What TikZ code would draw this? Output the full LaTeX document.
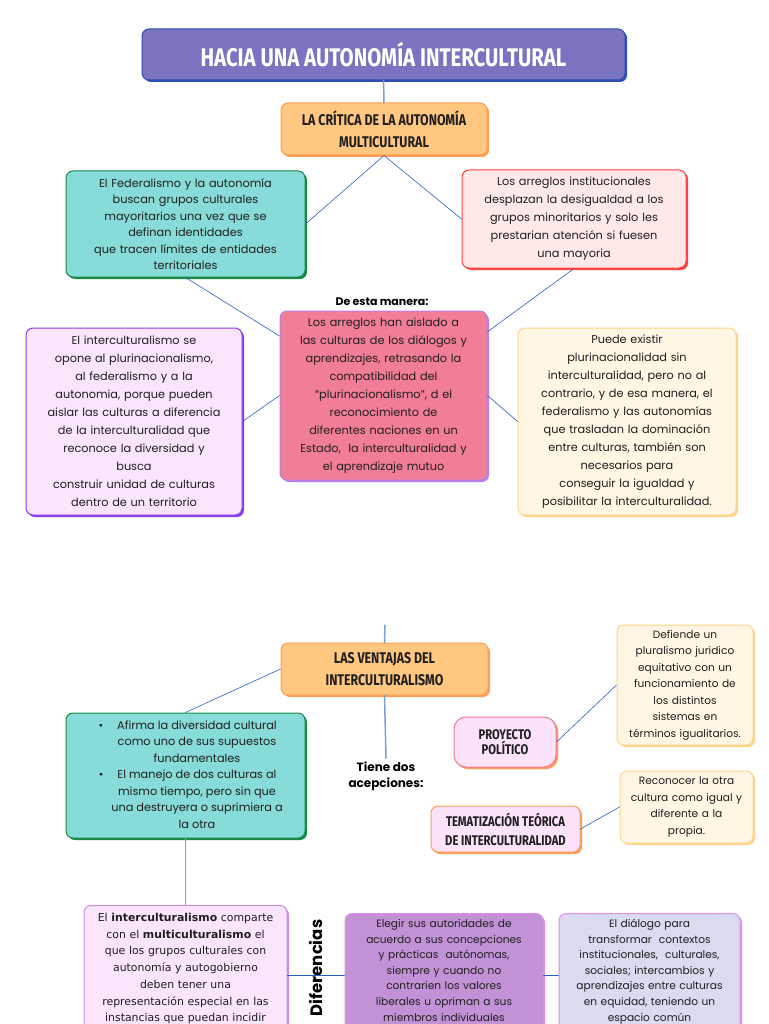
\documentclass[tikz,border=0pt]{standalone}
\usepackage{fontspec}
\setmainfont{Poppins}
\newfontfamily\headfont[FakeStretch=0.8]{Fira Sans}
\newfontfamily\verdfont{DejaVu Sans}
\usetikzlibrary{calc,shadows}
\definecolor{ttwwbb}{rgb}{0.48,0.45,0.75}
\definecolor{zzttcc}{rgb}{0.17,0.31,0.71}
\definecolor{ffwwtt}{rgb}{1.,0.78,0.5}
\definecolor{ffcctt}{rgb}{1.,0.62,0.33}
\definecolor{cceeee}{rgb}{0.53,0.86,0.85}
\definecolor{qqcczz}{rgb}{0.09,0.54,0.27}
\definecolor{ffeeee}{rgb}{1.,0.91,0.91}
\definecolor{ffzzzz}{rgb}{1.,0.25,0.25}
\definecolor{ffeeff}{rgb}{0.98,0.9,0.99}
\definecolor{cczzff}{rgb}{0.55,0.24,0.94}
\definecolor{ffccdd}{rgb}{0.95,0.49,0.59}
\definecolor{ccccff}{rgb}{0.72,0.5,0.9}
\definecolor{fffffe}{rgb}{1.,0.965,0.895}
\definecolor{ffddcc}{rgb}{1.,0.83,0.54}
\definecolor{ffeefe}{rgb}{0.99,0.89,0.98}
\definecolor{ffttcc}{rgb}{0.94,0.46,0.58}
\definecolor{ddccff}{rgb}{0.82,0.55,0.94}
\definecolor{ccccee}{rgb}{0.76,0.57,0.84}
\definecolor{eeccff}{rgb}{0.9,0.55,0.92}
\definecolor{eeeeff}{rgb}{0.85,0.86,0.94}
\definecolor{zzttee}{rgb}{0.16,0.38,0.79}
\definecolor{ccddff}{rgb}{0.47,0.62,0.86}
\begin{document}
\begin{tikzpicture}[line cap=round,line join=round,x=1pt,y=-1pt,
  box/.style 2 args={draw=#2,fill=#1,rounded corners=7pt,line width=1pt,inner sep=0pt,align=center,text=black!88,
    drop shadow={shadow xshift=2pt,shadow yshift=-2pt,fill=#2,opacity=1}},
  head/.style={font=\headfont\bfseries\fontsize{15.5}{22}\selectfont},
  txt/.style={font=\fontsize{11.3}{18}\selectfont},
  txm/.style={font=\fontsize{11.3}{16.5}\selectfont},
  txs/.style={font=\fontsize{10.6}{16.5}\selectfont},
  bold/.style={font=\bfseries\fontsize{#1}{16}\selectfont,align=center},
  link/.style={draw=zzttee,line width=0.6pt},
  stem/.style={draw=ccddff,line width=1.5pt}]
\clip (0,0) rectangle (768,1024);
\useasboundingbox (0,0) rectangle (768,1024);
% parte superior
\node[box={ttwwbb}{zzttcc},minimum width=483pt,minimum height=51pt,text=white,font=\headfont\bfseries\fontsize{25.5}{30}\selectfont] (title) at (383.5,54.5) {HACIA UNA AUTONOMÍA INTERCULTURAL};
\node[box={ffwwtt}{ffcctt},head,minimum width=206pt,minimum height=52pt] (critica) at (384,129) {LA CRÍTICA DE LA AUTONOMÍA\\MULTICULTURAL};
\node[box={cceeee}{qqcczz},txm,text width=235pt,minimum width=239pt,minimum height=106pt] (federal) at (185.5,224) {El Federalismo y la autonomía\\ buscan grupos culturales\\ mayoritarios una vez que se\\ definan identidades\\ que tracen límites de entidades\\ territoriales};
\node[box={ffeeee}{ffzzzz},txt,text width=220pt,minimum width=224pt,minimum height=98pt] (arreglos) at (574,219) {Los arreglos institucionales\\ desplazan la desigualdad a los\\ grupos minoritarios y solo les\\ prestarian atención si fuesen\\ una mayoria};
\node[bold=11] (manera) at (382,302) {De esta manera:};
\node[box={ffccdd}{ccccff},txt,text width=203pt,minimum width=207pt,minimum height=169pt] (aislado) at (383.5,395.5) {Los arreglos han aislado a\\ las culturas de los diálogos y\\ aprendizajes, retrasando la\\ compatibilidad del\\ “plurinacionalismo”, d el\\ reconocimiento de\\ diferentes naciones en un\\ Estado,\ \ la interculturalidad y\\ el aprendizaje mutuo};
\node[box={ffeeff}{cczzff},txt,text width=212pt,minimum width=216pt,minimum height=187pt] (opone) at (134,421.5) {El interculturalismo se\\ opone al plurinacionalismo,\\ al federalismo y a la\\ autonomia, porque pueden\\ aislar las culturas a diferencia\\ de la interculturalidad que\\ reconoce la diversidad y\\ busca\\ construir unidad de culturas\\ dentro de un territorio};
\node[box={fffffe}{ffddcc},txt,text width=214pt,minimum width=218pt,minimum height=187pt] (existir) at (627,421.5) {Puede existir\\ plurinacionalidad sin\\ interculturalidad, pero no al\\ contrario, y de esa manera, el\\ federalismo y las autonomías\\ que trasladan la dominación\\ entre culturas, también son\\ necesarios para\\ conseguir la igualdad y\\ posibilitar la interculturalidad.};
\draw[stem] (title) -- (critica);
\draw[link] (critica.south) -- (federal.east);
\draw[link] (critica.south) -- (arreglos.west);
\draw[link] (federal.south) -- ($(aislado.north west)!0.15!(aislado.south west)$);
\draw[link] (arreglos.south) -- ($(aislado.north east)!0.125!(aislado.south east)$);
\draw[link] (opone.east) -- (aislado.west);
\draw[link] (aislado.east) -- (existir.west);
% parte inferior
\coordinate (arriba) at (385,625);
\node[box={ffwwtt}{ffcctt},head,minimum width=207pt,minimum height=52pt] (ventajas) at (384.5,669) {LAS VENTAJAS DEL\\INTERCULTURALISMO};
\node[box={cceeee}{qqcczz},txm,minimum width=239pt,minimum height=125pt] (afirma) at (185.5,775.5) {\begin{tabular}{@{\hspace{23pt}}c@{}}
\llap{\textbullet\hspace{14pt}}Afirma la diversidad cultural\\ como uno de sus supuestos\\ fundamentales\\
\llap{\textbullet\hspace{14pt}}El manejo de dos culturas al\\ mismo tiempo, pero sin que\\ una destruyera o suprimiera a\\ la otra\end{tabular}};
\node[bold=12] (tiene) at (386,776) {Tiene dos\\acepciones:};
\node[box={ffeefe}{ffttcc},font=\headfont\bfseries\fontsize{14}{15.5}\selectfont,minimum width=102pt,minimum height=50pt,rounded corners=12pt,
  drop shadow={shadow xshift=2pt,shadow yshift=-2pt,fill=ffcctt,opacity=1}] (proyecto) at (505,742) {PROYECTO\\POLÍTICO};
\node[box={fffffe}{ffddcc},txs,text width=132pt,minimum width=136pt,minimum height=120pt] (defiende) at (685,685) {Defiende un\\ pluralismo juridico\\ equitativo con un\\ funcionamiento de\\ los distintos\\ sistemas en\\ términos igualitarios.};
\node[box={ffeefe}{ffcctt},font=\headfont\bfseries\fontsize{14}{19}\selectfont,minimum width=149pt,minimum height=46pt] (tematiza) at (505.5,829) {TEMATIZACIÓN TEÓRICA\\DE INTERCULTURALIDAD};
\node[box={fffffe}{ffddcc},txs,text width=129pt,minimum width=133pt,minimum height=72pt] (reconocer) at (686.5,807) {Reconocer la otra\\ cultura como igual y\\ diferente a la\\ propia.};
\node[box={ffeeff}{ddccff},font=\verdfont\fontsize{10.9}{16.7}\selectfont,anchor=north,text width=203pt,inner ysep=4pt,text height=12pt,text depth=160pt] (comparte) at (185.5,905) {El \textbf{interculturalismo} comparte\\ con el \textbf{multiculturalismo} el\\ que los grupos culturales con\\ autonomía y autogobierno\\ deben tener una\\ representación especial en las\\ instancias que puedan incidir};
\node[bold=16.5,rotate=90] (diferencias) at (316,968) {Diferencias};
\node[box={ccccee}{eeccff},font=\fontsize{10.6}{15.6}\selectfont,anchor=north,text width=198pt,inner ysep=4pt,text height=10pt,text depth=160pt] (elegir) at (444,913) {Elegir sus autoridades de\\ acuerdo a sus concepciones\\ y prácticas\ \ autónomas,\\ siempre y cuando no\\ contrarien los valores\\ liberales u opriman a sus\\ miembros individuales};
\node[box={eeeeff}{eeccff},font=\fontsize{10.6}{15.6}\selectfont,anchor=north,text width=181pt,inner ysep=4pt,text height=10pt,text depth=160pt] (dialogo) at (649.5,913) {El diálogo para\\ transformar\ \ contextos\\ institucionales,\ \ culturales,\\ sociales; intercambios y\\ aprendizajes entre culturas\\ en equidad, teniendo un\\ espacio común};
\draw[stem] (arriba) -- (ventajas.north);
\draw[link] (ventajas.west) -- (afirma.north);
\draw[stem] (ventajas.south) -- (tiene.north);
\draw[stem,line width=1pt] (afirma.south) -- (comparte.north);
\draw[link] (proyecto.east) -- (defiende.west);
\draw[link] (tematiza.east) -- (reconocer.west);
\draw[link] (comparte.east |- 0,975) -- (elegir.west |- 0,975);
\draw[link] (elegir.east |- 0,975) -- (dialogo.west |- 0,975);
\end{tikzpicture}
\end{document}
